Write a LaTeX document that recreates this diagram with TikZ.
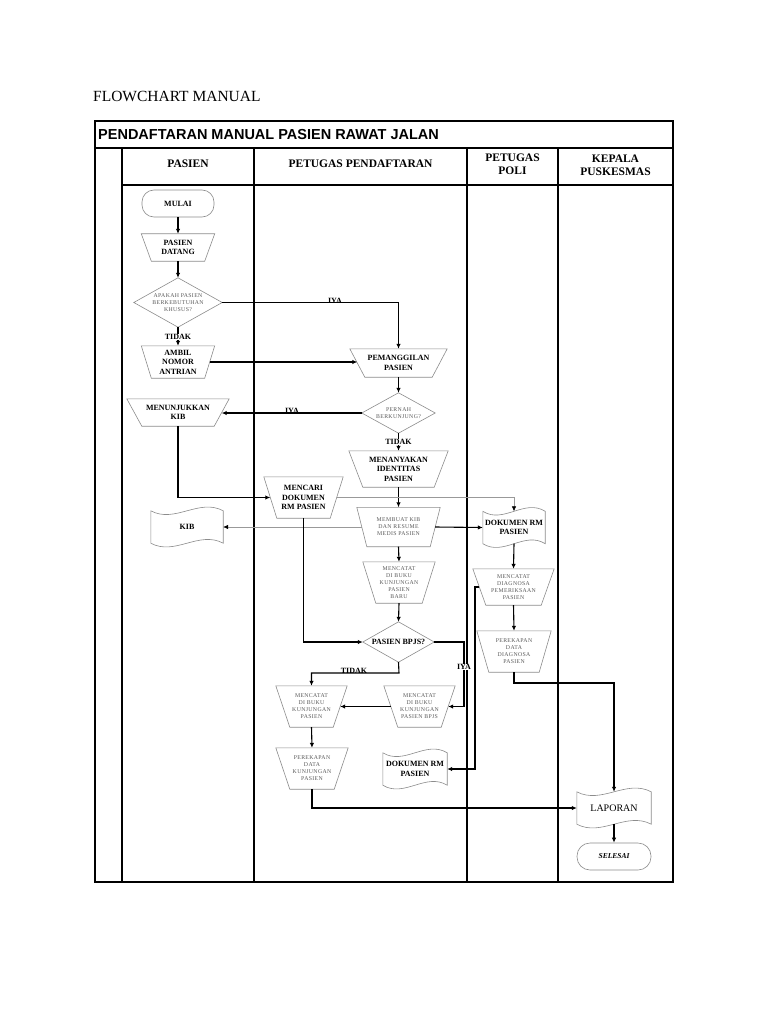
\documentclass[tikz,border=0pt]{standalone}
\usepackage{fontspec}
\setmainfont{Liberation Serif}
\newfontfamily\arialf{Liberation Sans}
\usetikzlibrary{arrows.meta,calc}

\tikzset{
  conn/.style={line width=1.1pt, -{Latex[length=5pt,width=4.5pt]}},
  thinconn/.style={line width=0.6pt, draw=black!40, -{Latex[length=5pt,width=4.5pt,color=black]}},
  shapeline/.style={draw=black!45, line width=0.6pt},
  box/.style={draw=none, align=center, inner sep=0pt},
  boldtxt/.style={font=\bfseries\fontsize{8}{9.5}\selectfont},
  greytxt/.style={font=\fontsize{5.8}{7}\selectfont\addfontfeatures{LetterSpace=6}, text=black!65},
  lbl/.style={font=\bfseries\fontsize{8}{9}\selectfont, inner sep=0.6pt, fill=white},
  tbl/.style={line width=1.2pt},
  hdr/.style={font=\bfseries\fontsize{11.5}{13}\selectfont, align=center, inner sep=0pt},
  term/.style={draw=black!45, line width=0.6pt, rounded corners=12pt, align=center, inner sep=0pt},
}

% name, x, y, width, height, bottom inset, text style, text
\newcommand{\Trap}[8]{%
  \node[box,#7,minimum width=#4pt,minimum height=#5pt] (#1) at (#2,#3) {#8};
  \draw[shapeline] (#1.north west) -- (#1.north east) -- ([xshift=-#6pt]#1.south east) -- ([xshift=#6pt]#1.south west) -- cycle;
  \coordinate (#1-l) at ([xshift=#6pt/2]#1.west);
  \coordinate (#1-r) at ([xshift=-#6pt/2]#1.east);
}
% name, x, y, width, height, text style, text
\newcommand{\Dia}[7]{%
  \node[box,#6,minimum width=#4pt,minimum height=#5pt] (#1) at (#2,#3) {#7};
  \draw[shapeline] (#1.north) -- (#1.east) -- (#1.south) -- (#1.west) -- cycle;
}
\newcommand{\Tape}[7]{%
  \node[box,#6,minimum width=#4pt,minimum height=#5pt] (#1) at (#2,#3) {#7};
  \draw[shapeline] (#1.north west) .. controls +(#4/3,13) and +(-#4/3,-13) .. (#1.north east)
     -- (#1.south east) .. controls +(-#4/3,-13) and +(#4/3,13) .. (#1.south west) -- cycle;
}

\begin{document}
\begin{tikzpicture}[x=1pt,y=-1pt]
\path[use as bounding box, fill=white] (0,0) rectangle (768,1024);

% heading
\node[anchor=west, font=\fontsize{15.5}{17}\selectfont, inner sep=0pt] (heading) at (93,96) {FLOWCHART MANUAL};

% table
\draw[tbl] (95,121) rectangle (673,882);
\draw[tbl] (95,148) -- (673,148);
\draw[tbl] (122,185) -- (673,185);
\draw[tbl] (122,148) -- (122,882);
\draw[tbl] (254,148) -- (254,882);
\draw[tbl] (467,148) -- (467,882);
\draw[tbl] (558,148) -- (558,882);

\node[anchor=west, font=\arialf\bfseries\fontsize{14.5}{16}\selectfont, inner sep=0pt] (title) at (98,134.5) {PENDAFTARAN MANUAL PASIEN RAWAT JALAN};
\node[hdr] (h1) at (188,164) {PASIEN};
\node[hdr] (h2) at (360.5,164) {PETUGAS PENDAFTARAN};
\node[hdr] (h3) at (512.5,164) {PETUGAS\\POLI};
\node[hdr] (h4) at (615.5,165) {KEPALA\\PUSKESMAS};

% nodes
\node[term, boldtxt, minimum width=72pt, minimum height=27pt] (mulai) at (178,203.5) {MULAI};
\Trap{datang}{178}{247.5}{73}{27}{10}{boldtxt}{PASIEN\\DATANG}
\Dia{q1}{178}{302.5}{88}{49}{greytxt}{APAKAH PASIEN\\BERKEBUTUHAN\\KHUSUS?}
\Trap{ambil}{178}{362}{73}{32}{10}{boldtxt}{AMBIL\\NOMOR\\ANTRIAN}
\Trap{panggil}{398.5}{363}{97}{28}{15}{boldtxt}{PEMANGGILAN\\PASIEN}
\Dia{q2}{398.5}{413}{73}{40}{greytxt}{PERNAH\\BERKUNJUNG?}
\Trap{tunjuk}{178}{412.5}{102}{27}{15}{boldtxt}{MENUNJUKKAN\\KIB}
\Trap{tanya}{398.5}{469}{99}{36}{14}{boldtxt}{MENANYAKAN\\IDENTITAS\\PASIEN}
\Trap{cari}{303.5}{497.5}{79}{41}{13}{boldtxt}{MENCARI\\DOKUMEN\\RM PASIEN}
\Trap{membuat}{398.5}{527}{83}{39}{10}{greytxt}{MEMBUAT KIB\\DAN RESUME\\MEDIS PASIEN}
\Tape{kib}{187}{527}{72}{32}{boldtxt}{KIB}
\Tape{dok1}{514}{527.5}{62}{32}{boldtxt}{DOKUMEN RM\\PASIEN}
\Trap{baru}{399}{582.5}{72}{41}{13}{greytxt}{MENCATAT\\DI BUKU\\KUNJUNGAN\\PASIEN\\BARU}
\Dia{q3}{398.5}{642}{71}{40}{boldtxt}{PASIEN BPJS?}
\Trap{diag}{513.5}{587}{81}{36}{13}{greytxt}{MENCATAT\\DIAGNOSA\\PEMERIKSAAN\\PASIEN}
\Trap{rekapdiag}{514}{651.5}{74}{41}{12}{greytxt}{PEREKAPAN\\DATA\\DIAGNOSA\\PASIEN}
\Trap{catat}{311.5}{706.5}{71}{41}{14}{greytxt}{MENCATAT\\DI BUKU\\KUNJUNGAN\\PASIEN}
\Trap{bpjs}{419.5}{706.5}{71}{41}{14}{greytxt}{MENCATAT\\DI BUKU\\KUNJUNGAN\\PASIEN BPJS}
\Trap{rekap}{312}{768.5}{72}{41}{14}{greytxt}{PEREKAPAN\\DATA\\KUNJUNGAN\\PASIEN}
\Tape{dok2}{415}{769}{64}{32}{boldtxt}{DOKUMEN RM\\PASIEN}
\Tape{laporan}{614}{808}{74}{32}{font=\fontsize{10}{11}\selectfont}{LAPORAN}
\node[term, font=\bfseries\itshape\fontsize{7.5}{9}\selectfont, minimum width=74pt, minimum height=27pt, rounded corners=13pt] (selesai) at (614,856.5) {SELESAI};

% helper coordinates
\coordinate (c1) at (464,642);
\coordinate (c2) at (399,673);
\coordinate (c3) at (475,587);
\coordinate (c4) at (514,683);

% connectors
\draw[conn] (mulai.south) -- (datang.north);
\draw[conn] (datang.south) -- (q1.north);
\draw[conn] (q1.south) -- (ambil.north);
\node[lbl] (tidak1) at (178,337) {TIDAK};
\draw[conn] (q1.east) -| (panggil.north);
\node[lbl, fill=none] (iya1) at (335,301) {IYA};
\draw[conn] (ambil-r) -- (ambil-r -| panggil-l);
\draw[conn] (panggil.south) -- (q2.north);
\draw[conn] (q2.west) -- (q2.west -| tunjuk-r);
\node[lbl, fill=none] (iya2) at (292,411) {IYA};
\draw[conn] (q2.south) -- (tanya.north);
\node[lbl] (tidak2) at (398.5,442) {TIDAK};
\draw[conn] (tanya.south) -- (membuat.north);
\draw[conn] (tunjuk.south) |- (cari-l);
\draw[thinconn] (cari-r) -| (dok1.north);
\draw[thinconn] (membuat-l) -- (kib.east);
\draw[conn] (membuat-r) -- (dok1.west);
\draw[conn] (membuat.south) -- (baru.north);
\draw[conn] (baru.south) -- (q3.north);
\draw[conn] (cari.south) |- (q3.west);
\draw[conn] (q3.east) -- (c1) |- (bpjs-r);
\node[lbl] (iya3) at (464,667) {IYA};
\draw[conn] (q3.south) -- (c2) -| (catat.north);
\node[lbl, fill=none] (tidak3) at (354,671) {TIDAK};
\draw[conn] (bpjs-l) -- (bpjs-l -| catat-r);
\draw[conn] (catat.south) -- (rekap.north);
\draw[conn] (rekap.south) |- (laporan.west);
\draw[conn] (dok1.south) -- (diag.north);
\draw[conn] (diag.south) -- (rekapdiag.north);
\draw[conn] (diag-l) -- (c3) |- (dok2.east);
\draw[conn] (rekapdiag.south) -- (c4) -| (laporan.north);
\draw[conn] (laporan.south) -- (selesai.north);
\end{tikzpicture}
\end{document}
